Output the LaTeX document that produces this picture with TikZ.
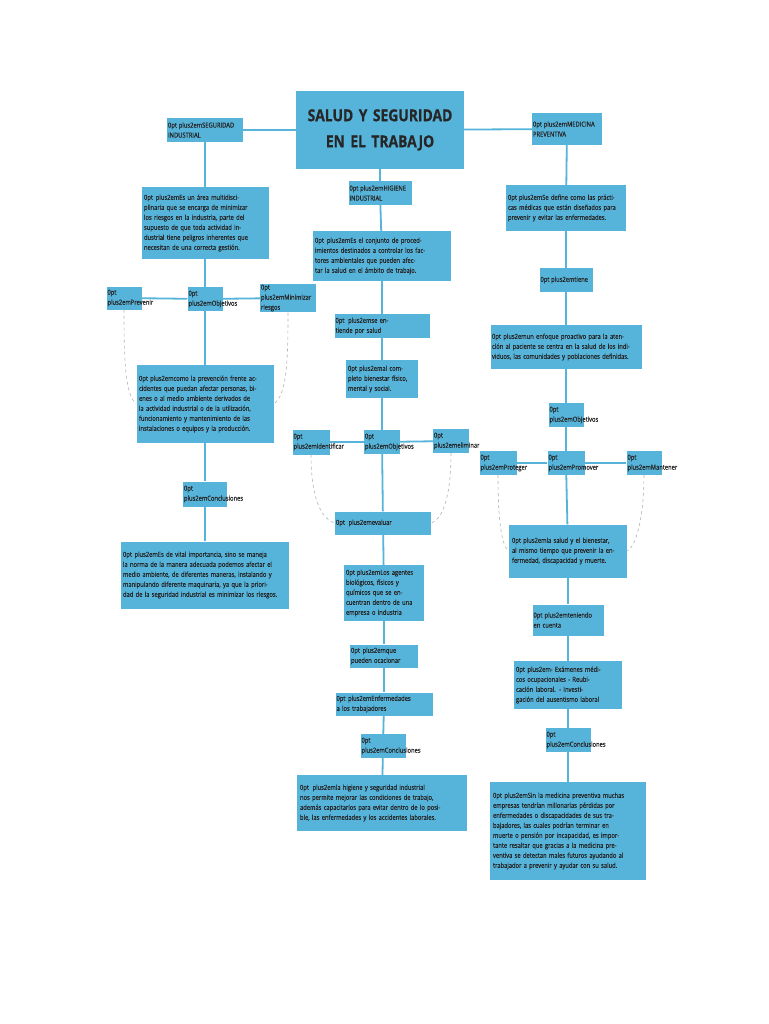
\documentclass[tikz,border=0pt]{standalone}
\usepackage{fontspec}
\setmainfont[FakeStretch=0.84,FakeBold=0.6]{Open Sans}
\begin{document}
\begin{tikzpicture}[x=1pt,y=-1pt,
  bx/.style={fill=boxc, text=black!85, font=\fontsize{6.9}{10}\selectfont\hyphenpenalty=10000\exhyphenpenalty=10000, align=center, inner sep=1pt},
  ttl/.style={bx, font=\fontsize{16.5}{26}\selectfont\bfseries},
  ln/.style={draw=boxc, line width=1.8pt},
  dl/.style={draw=gray!60, dashed, line width=0.6pt}]
\definecolor{boxc}{HTML}{56B4DB}
\useasboundingbox (0,0) rectangle (768,1024);
\fill[white] (0,0) rectangle (768,1024);
\newcommand{\bxn}[6]{\node[bx, minimum width=#3, minimum height=#4, text width=#5] (#1) at #2 {#6};}
\node[ttl, minimum width=168pt, minimum height=78pt, text width=162pt] (title) at (380,130) {SALUD Y SEGURIDAD\\EN EL TRABAJO};
\bxn{si}{(205,130)}{76pt}{24pt}{74pt}{SEGURIDAD INDUSTRIAL}
\bxn{mp}{(567,129)}{70pt}{32pt}{68pt}{MEDICINA PREVENTIVA}
\bxn{hi}{(380,193)}{63pt}{24pt}{61pt}{HIGIENE INDUSTRIAL}
\bxn{a1}{(205,223)}{127pt}{72pt}{122pt}{Es un área multidisciplinaria que se encarga de minimizar los riesgos en la industria, parte del supuesto de que toda actividad industrial tiene peligros inherentes que necesitan de una correcta gestión.}
\bxn{h1}{(382,256)}{138pt}{50pt}{134pt}{Es el conjunto de procedimientos destinados a controlar los factores ambientales que pueden afectar la salud en el ámbito de trabajo.}
\bxn{m1}{(566,208)}{120pt}{46pt}{116pt}{Se define como las prácticas médicas que están diseñados para prevenir y evitar las enfermedades.}
\bxn{prev}{(124,298)}{34pt}{23pt}{33pt}{Prevenir}
\bxn{objl}{(205,299)}{34pt}{24pt}{33pt}{Objetivos}
\bxn{minr}{(288,298)}{55pt}{23pt}{54pt}{Minimizar riesgos}
\bxn{sal}{(382,326)}{95pt}{24pt}{93pt}{se entiende por salud}
\bxn{bien}{(382,379)}{72pt}{38pt}{68pt}{al completo bienestar físico, mental y social.}
\bxn{tiene}{(566,280)}{53pt}{24pt}{51pt}{tiene}
\bxn{m2}{(566,347)}{151pt}{44pt}{148pt}{un enfoque proactivo para la atención al paciente se centra en la salud de los individuos, las comunidades y poblaciones definidas.}
\bxn{a2}{(205,404)}{137pt}{78pt}{132pt}{como la prevención frente accidentes que puedan afectar personas, bienes o al medio ambiente derivados de la actividad industrial o de la utilización, funcionamiento y mantenimiento de las instalaciones o equipos y la producción.}
\bxn{objm}{(382,442)}{35pt}{24pt}{34pt}{Objetivos}
\bxn{iden}{(311,442)}{36pt}{25pt}{35pt}{identificar}
\bxn{elim}{(451,441)}{35pt}{24pt}{34pt}{eliminar}
\bxn{objr}{(566,415)}{34pt}{24pt}{33pt}{Objetivos}
\bxn{prot}{(498,463)}{36pt}{24pt}{35pt}{Proteger}
\bxn{prom}{(566,463)}{36pt}{24pt}{35pt}{Promover}
\bxn{mant}{(644,463)}{34pt}{24pt}{33pt}{Mantener}
\bxn{concl}{(205,494)}{43pt}{25pt}{42pt}{Conclusiones}
\bxn{eval}{(383,523)}{96pt}{23pt}{94pt}{evaluar}
\bxn{a3}{(205,575)}{168pt}{67pt}{164pt}{Es de vital importancia, sino se maneja la norma de la manera adecuada podemos afectar el medio ambiente, de diferentes maneras, instalando y manipulando diferente maquinaria, ya que la prioridad de la seguridad industrial es minimizar los riesgos.}
\bxn{m3}{(568,551)}{118pt}{53pt}{112pt}{la salud y el bienestar, al mismo tiempo que prevenir la enfermedad, discapacidad y muerte.}
\bxn{agen}{(384,593)}{80pt}{56pt}{76pt}{Los agentes biológicos, físicos y químicos que se encuentran dentro de una empresa o industria}
\bxn{ten}{(568,620)}{71pt}{31pt}{69pt}{teniendo en cuenta}
\bxn{ocac}{(384,656)}{68pt}{23pt}{66pt}{que pueden ocacionar}
\bxn{exam}{(568,685)}{108pt}{48pt}{104pt}{- Exámenes médicos ocupacionales - Reubicación laboral. - Investigación del ausentismo laboral}
\bxn{enf}{(384,704)}{97pt}{23pt}{95pt}{Enfermedades a los trabajadores}
\bxn{concm}{(383,746)}{44pt}{24pt}{43pt}{Conclusiones}
\bxn{concr}{(568,740)}{44pt}{24pt}{43pt}{Conclusiones}
\bxn{hf}{(382,803)}{170pt}{56pt}{164pt}{la higiene y seguridad industrial nos permite mejorar las condiciones de trabajo, además capacitarlos para evitar dentro de lo posible, las enfermedades y los accidentes laborales.}
\bxn{mf}{(568,831)}{156pt}{98pt}{150pt}{Sin la medicina preventiva muchas empresas tendrían millonarias pérdidas por enfermedades o discapacidades de sus trabajadores, las cuales podrían terminar en muerte o pensión por incapacidad, es importante resaltar que gracias a la medicina preventiva se detectan males futuros ayudando al trabajador a prevenir y ayudar con su salud.}
% connectors
\draw[ln] (title) -- (si);
\draw[ln] (title) -- (mp);
\draw[ln] (title) -- (hi);
\draw[ln] (si) -- (a1); \draw[ln] (a1) -- (objl); \draw[ln] (objl) -- (a2);
\draw[ln] (prev) -- (objl); \draw[ln] (objl) -- (minr);
\draw[ln] (a2) -- (concl); \draw[ln] (concl) -- (a3);
\draw[ln] (hi) -- (h1); \draw[ln] (h1) -- (sal); \draw[ln] (sal) -- (bien); \draw[ln] (bien) -- (objm);
\draw[ln] (iden) -- (objm); \draw[ln] (objm) -- (elim); \draw[ln] (objm) -- (eval);
\draw[ln] (eval) -- (agen); \draw[ln] (agen) -- (ocac); \draw[ln] (ocac) -- (enf); \draw[ln] (enf) -- (concm); \draw[ln] (concm) -- (hf);
\draw[ln] (mp) -- (m1); \draw[ln] (m1) -- (tiene); \draw[ln] (tiene) -- (m2); \draw[ln] (m2) -- (objr); \draw[ln] (objr) -- (prom);
\draw[ln] (prot) -- (prom); \draw[ln] (prom) -- (mant); \draw[ln] (prom) -- (m3);
\draw[ln] (m3) -- (ten); \draw[ln] (ten) -- (exam); \draw[ln] (exam) -- (concr); \draw[ln] (concr) -- (mf);
% dashed curves
\draw[dl] (prev.south) .. controls (124,360) and (125,395) .. (a2.west);
\draw[dl] (minr.south) .. controls (288,360) and (287,395) .. (a2.east);
\draw[dl] (iden.south) .. controls (311,490) and (318,518) .. (eval.west);
\draw[dl] (elim.south) .. controls (451,490) and (445,518) .. (eval.east);
\draw[dl] (prot.south) .. controls (498,510) and (500,545) .. (m3.west);
\draw[dl] (mant.south) .. controls (644,510) and (638,545) .. (m3.east);
\end{tikzpicture}
\end{document}
